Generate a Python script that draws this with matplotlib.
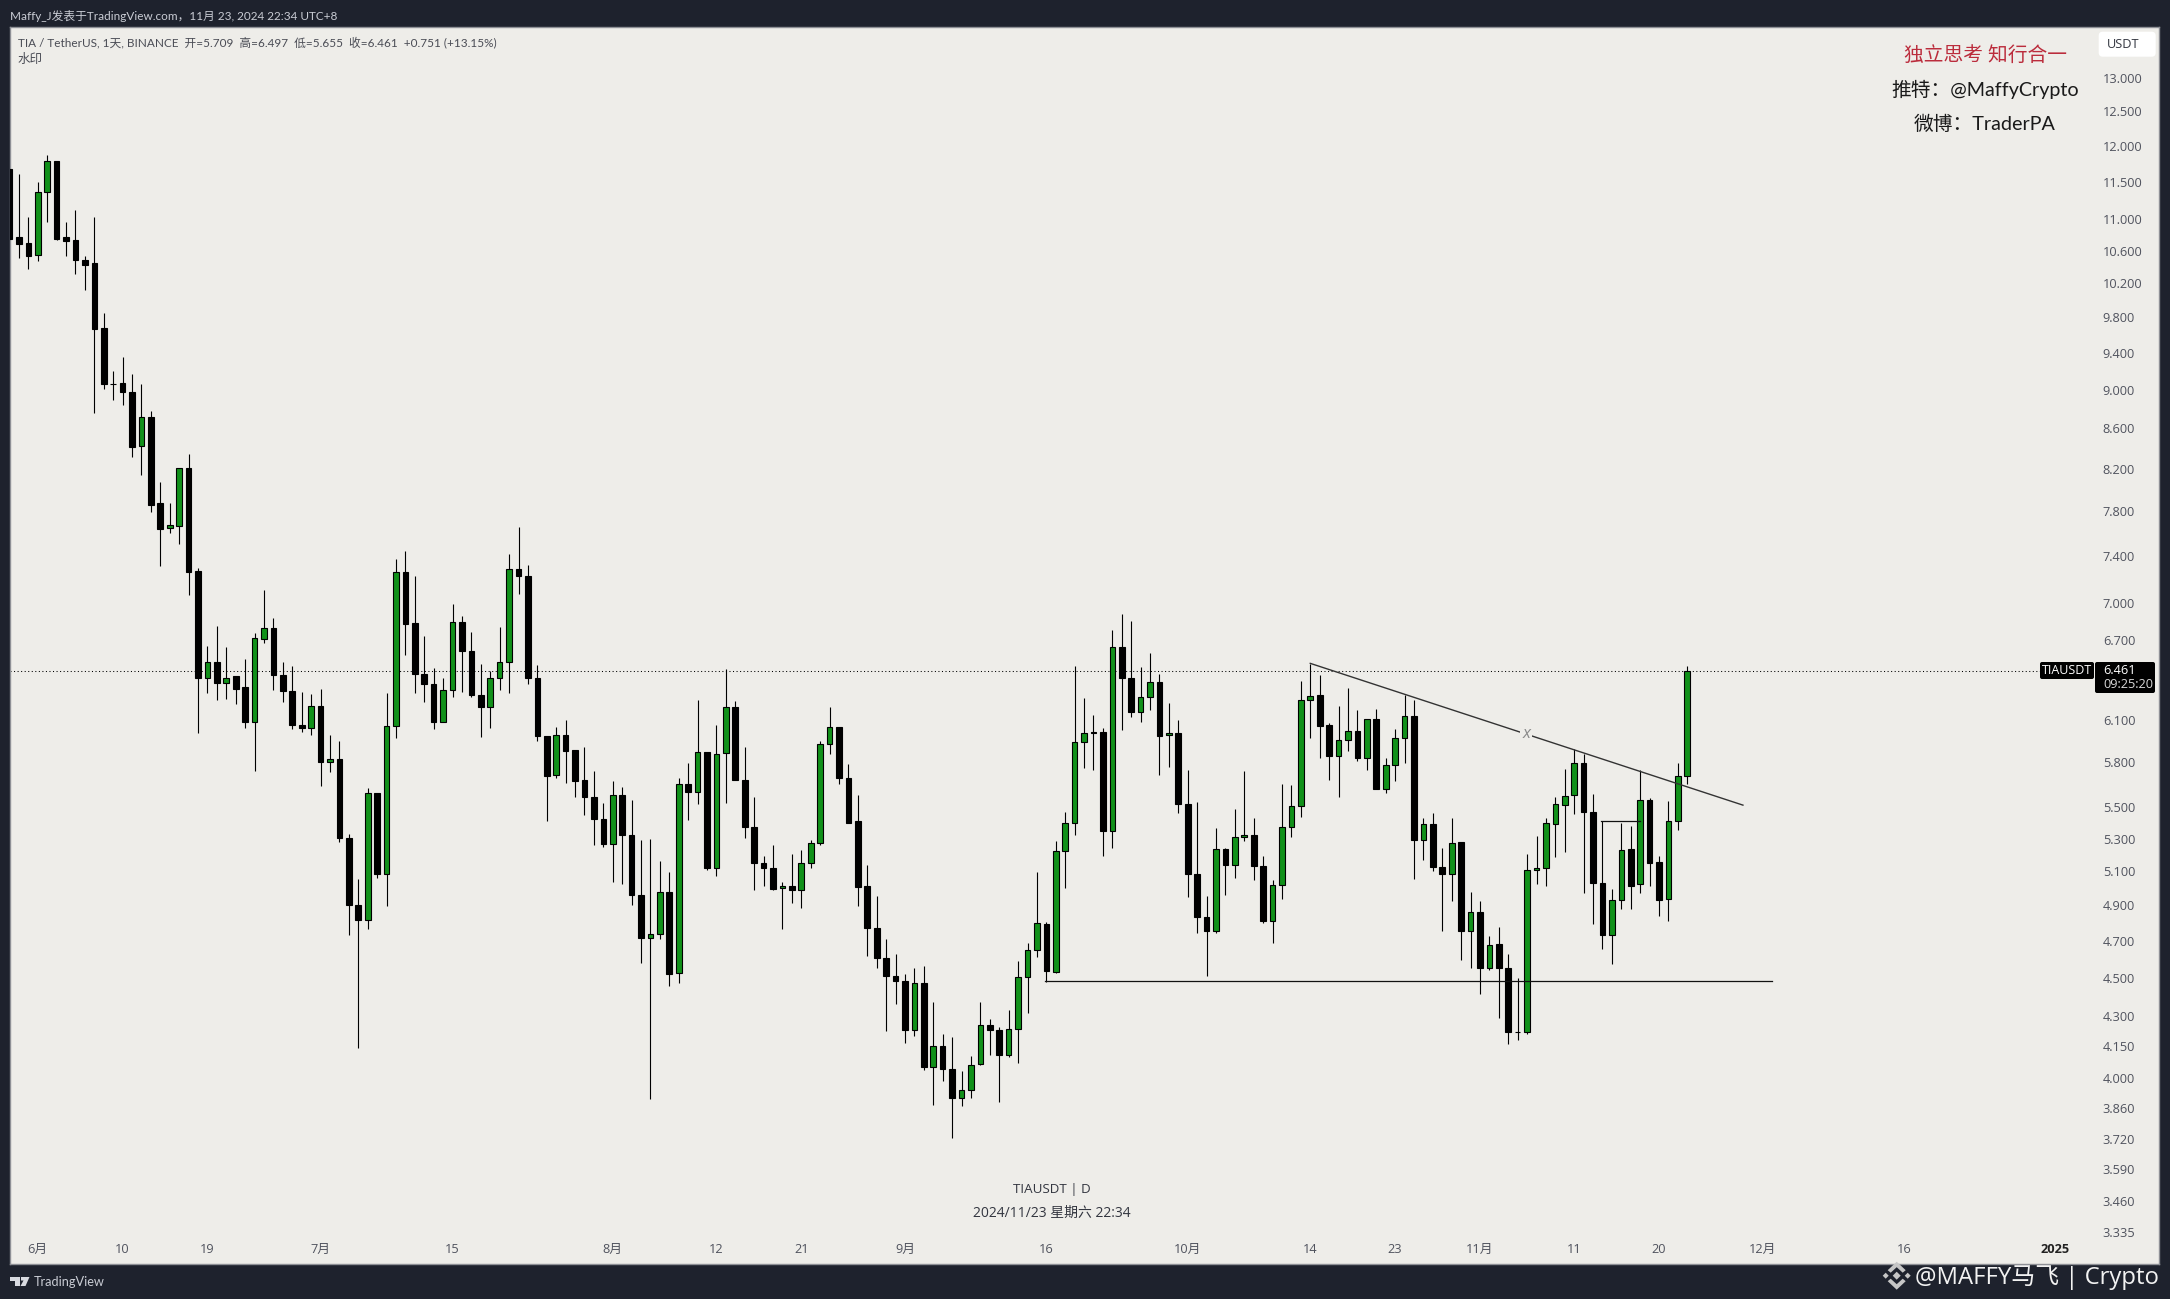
import matplotlib
matplotlib.use("Agg")
import matplotlib.pyplot as plt
from matplotlib.patches import Polygon, FancyBboxPatch
from matplotlib.ticker import NullLocator

opens = [11.67,10.78,10.70,10.55,11.36,11.79,10.78,10.74,10.49,10.45,
 9.68,9.065,9.07,8.98,8.423,8.715,7.87,7.65,7.665,8.21,
 7.267,6.405,6.53,6.367,6.418,6.34,6.083,6.71,6.797,6.43,
 6.308,6.06,6.04,6.198,5.805,5.825,5.308,4.905,4.818,5.596,
 5.086,6.055,7.255,6.832,6.437,6.364,6.082,6.319,6.845,6.617,
 6.279,6.19,6.407,6.53,7.285,7.225,6.407,5.98,5.713,5.992,
 5.883,5.68,5.569,5.426,5.267,5.582,5.326,4.962,4.715,4.738,
 4.98,4.524,5.655,5.601,5.871,5.119,5.864,6.19,5.68,5.373,
 5.151,5.121,4.999,5.015,4.989,5.151,5.274,5.927,6.05,5.694,
 5.41,5.011,4.774,4.603,4.509,4.484,4.231,4.472,4.049,4.152,
 4.042,3.904,3.942,4.065,4.254,4.231,4.107,4.235,4.503,4.649,
 4.795,4.528,5.223,5.398,5.941,6.014,6.014,5.35,6.648,6.408,
 6.153,6.265,6.378,5.99,6.006,5.524,5.086,4.835,4.755,5.239,
 5.138,5.311,5.326,5.134,4.81,5.018,5.375,5.509,6.242,6.282,
 6.059,5.847,5.957,6.015,5.833,6.106,5.623,5.784,5.971,6.128,
 5.294,5.396,5.128,5.085,5.278,4.752,4.863,4.551,4.683,4.553,
 4.222,4.222,5.108,5.12,5.395,5.519,5.581,5.798,5.471,5.03,
 4.731,4.932,5.238,5.023,5.547,5.155,4.937,5.413,5.709]
closes = [10.75,10.69,10.53,11.36,11.79,10.75,10.72,10.48,10.43,9.67,
 9.06,9.065,8.976,8.414,8.71,7.858,7.64,7.67,8.21,7.263,
 6.405,6.53,6.367,6.405,6.322,6.083,6.718,6.797,6.43,6.308,
 6.06,6.04,6.198,5.805,5.825,5.305,4.905,4.818,5.596,5.086,
 6.055,7.255,6.83,6.437,6.361,6.082,6.319,6.845,6.614,6.276,
 6.19,6.407,6.53,7.285,7.225,6.407,5.983,5.707,5.992,5.877,
 5.674,5.566,5.423,5.267,5.582,5.325,4.96,4.715,4.738,4.98,
 4.52,5.655,5.601,5.871,5.119,5.858,6.19,5.68,5.373,5.151,
 5.119,4.994,5.015,4.989,5.151,5.277,5.927,6.048,5.694,5.403,
 5.007,4.77,4.605,4.509,4.482,4.231,4.472,4.049,4.152,4.04,
 3.904,3.942,4.061,4.254,4.231,4.107,4.237,4.505,4.649,4.799,
 4.534,5.226,5.401,5.943,6.006,6.006,5.35,6.648,6.405,6.153,
 6.265,6.378,5.982,6.006,5.521,5.084,4.833,4.753,5.239,5.138,
 5.313,5.326,5.132,4.81,5.018,5.377,5.511,6.245,6.275,6.056,
 5.847,5.957,6.015,5.833,6.106,5.621,5.784,5.971,6.128,5.292,
 5.396,5.126,5.083,5.276,4.752,4.863,4.551,4.677,4.551,4.221,
 4.222,5.11,5.122,5.397,5.52,5.575,5.798,5.469,5.029,4.731,
 4.932,5.232,5.016,5.547,5.153,4.93,5.413,5.709,6.461]
highs = [11.67,11.60,11.03,11.50,11.87,11.79,10.97,11.12,10.54,11.03,
 9.85,9.20,9.349,9.165,9.06,8.775,8.07,7.87,8.21,8.34,
 7.29,6.65,6.808,6.642,6.418,6.549,6.753,7.104,6.873,6.53,
 6.494,6.304,6.29,6.325,5.988,5.951,5.332,5.057,5.63,5.596,
 6.297,7.37,7.437,7.229,6.729,6.486,6.41,6.987,6.889,6.761,
 6.514,6.462,6.806,7.413,7.659,7.317,6.502,5.98,6.047,6.097,
 5.883,5.908,5.74,5.532,5.677,5.635,5.55,5.295,5.302,5.161,
 5.099,5.694,5.799,6.245,5.871,6.059,6.474,6.232,5.908,5.569,
 5.196,5.264,5.035,5.204,5.229,5.292,5.946,6.194,6.05,5.788,
 5.579,5.141,4.956,4.712,4.625,4.522,4.55,4.56,4.375,4.213,
 4.198,4.029,4.104,4.375,4.288,4.248,4.333,4.591,4.689,5.095,
 4.808,5.288,5.473,6.496,6.26,6.134,6.039,6.777,6.911,6.849,
 6.493,6.602,6.44,6.224,6.095,5.745,5.533,4.956,5.366,5.245,
 5.487,5.739,5.43,5.197,5.05,5.652,5.645,6.381,6.516,6.433,
 6.074,6.195,6.328,6.173,6.106,6.178,5.828,6.03,6.277,6.245,
 5.43,5.464,5.245,5.43,5.278,4.976,4.928,4.724,4.777,4.627,
 4.499,5.208,5.315,5.435,5.569,5.757,5.892,5.857,5.587,5.413,
 4.993,5.403,5.384,5.748,5.563,5.196,5.539,5.795,6.497]
lows = [10.75,10.51,10.37,10.47,10.97,10.73,10.53,10.32,10.12,8.76,
 9.01,8.893,8.84,8.31,8.14,7.795,7.31,7.60,7.505,7.065,
 6.006,6.294,6.245,6.252,6.213,6.04,5.738,6.68,6.315,6.23,
 6.034,6.014,5.99,5.64,5.736,5.28,4.733,4.143,4.765,5.06,
 4.894,5.968,6.58,6.294,6.226,6.033,6.082,6.264,6.303,6.267,
 5.974,6.039,6.319,6.294,7.071,6.361,5.948,5.413,5.694,5.66,
 5.566,5.45,5.262,5.249,5.037,5.025,4.902,4.579,3.899,4.708,
 4.454,4.471,5.418,5.521,5.109,5.073,5.532,5.68,5.307,4.989,
 5.013,4.989,4.766,4.912,4.888,5.119,5.264,5.858,5.651,5.403,
 4.899,4.615,4.554,4.224,4.365,4.168,4.203,4.035,3.872,3.986,
 3.725,3.867,3.904,4.059,4.106,3.886,4.098,4.068,4.314,4.611,
 4.478,4.524,5.0,5.324,5.76,5.747,5.193,5.244,6.024,6.119,
 6.082,6.169,5.717,5.769,5.464,4.948,4.746,4.509,4.746,4.96,
 5.06,5.286,5.048,4.799,4.687,4.936,5.311,5.438,5.969,5.833,
 5.68,5.568,5.878,5.812,5.745,5.621,5.594,5.674,5.796,5.053,
 5.172,5.101,4.752,4.924,4.596,4.554,4.414,4.54,4.291,4.161,
 4.181,4.21,5.023,5.016,5.189,5.22,5.455,4.97,4.796,4.654,
 4.572,4.878,4.878,4.97,5.016,4.838,4.81,5.355,5.655]

y_ticks = [13.0,12.5,12.0,11.5,11.0,10.6,10.2,9.8,9.4,9.0,8.6,8.2,7.8,7.4,7.0,6.7,
           6.1,5.8,5.5,5.3,5.1,4.9,4.7,4.5,4.3,4.15,4.0,3.86,3.72,3.59,3.46,3.335]
x_tick_pos = [3,12,21,33,47,64,75,84,95,110,125,138,147,156,166,175,186,201,217]
x_tick_labels = ['6月','10','19','7月','15','8月','12','21','9月','16','10月','14','23','11月','11','20','12月','16','2025']

last_price = 6.461
support_level = 4.482
support_span = (109.9, 187.0)
box_level = 5.413
box_span = (168.8, 173.0)
trend_idx = (138.0, 183.9)
trend_price = (6.518, 5.515)
marker_pos = (160.9, 5.995)

W, H = 2170, 1299
BG = '#1e222d'
PANEL = '#eeede9'
GREEN = '#11911a'
FONT = ['Lato', 'Noto Sans CJK SC', 'DejaVu Sans']
OPEN = ['Open Sans', 'Noto Sans CJK SC', 'DejaVu Sans']
plt.rcParams['font.family'] = FONT

fig = plt.figure(figsize=(W/100, H/100), dpi=100, facecolor=BG)
L, R, T, B = 10.0, 2159.0, 27.0, 1264.0
ax = fig.add_axes([L/W, 1-B/H, (R-L)/W, (B-T)/H], facecolor=PANEL)
for s in ax.spines.values():
    s.set_color('#8e9096'); s.set_linewidth(1.0)

ax.set_yscale('log')
ax.set_xlim(0.053, 228.04)
ax.set_ylim(3.211, 13.80)

x = list(range(len(opens)))
ax.vlines(x, lows, highs, color='black', lw=0.8, zorder=3)
tops = [max(o, c) for o, c in zip(opens, closes)]
bots = [min(o, c) for o, c in zip(opens, closes)]
cols = [GREEN if c > o else 'black' for o, c in zip(opens, closes)]
ax.bar(x, [t-b for t, b in zip(tops, bots)], bottom=bots, width=0.6, color=cols,
       edgecolor='black', linewidth=0.8, zorder=4)

ax.plot([0.053, 215.4], [last_price]*2, color='black', lw=0.75, ls=(0, (1, 2.4)), zorder=2)
ax.plot(support_span, [support_level]*2, color='#111111', lw=0.9, zorder=5)
ax.plot(box_span, [box_level]*2, color='#111111', lw=0.9, zorder=5)
ax.plot(trend_idx, trend_price, color='#333333', lw=1.0, zorder=5)
ax.text(marker_pos[0], marker_pos[1], 'x', fontsize=12, style='italic', color='#8a8a8a', ha='center', va='center',
        zorder=6, family=OPEN, bbox=dict(facecolor=PANEL, edgecolor='none', pad=1.6))

ax.yaxis.tick_right()
ax.set_yticks(y_ticks)
ax.set_yticklabels([f'{v:.3f}' for v in y_ticks])
ax.yaxis.set_minor_locator(NullLocator())
ax.tick_params(axis='y', which='both', length=0, pad=-40.5, labelsize=9.2, labelcolor='#50535e')
ax.set_xticks(x_tick_pos)
ax.set_xticklabels(x_tick_labels)
ax.tick_params(axis='x', length=0, pad=-15.2, labelsize=9.2, labelcolor='#50535e')
for lbl in ax.get_xticklabels() + ax.get_yticklabels():
    lbl.set_fontfamily(OPEN)
for lbl in ax.get_xticklabels():
    if lbl.get_text() == '2025':
        lbl.set_color('#222222'); lbl.set_fontweight('bold')


def fx(px):
    return px/W


def fy(py):
    return 1-py/H


def txt(px, py, s, size, color, ha='left', va='center', family=None, **kw):
    fig.text(fx(px), fy(py), s, fontsize=size, color=color, ha=ha, va=va,
             family=family or FONT, zorder=20, **kw)


def box(x0, y0, x1, y1, color, r=2):
    fig.add_artist(FancyBboxPatch((x0, H-y1), x1-x0, y1-y0, boxstyle=f'round,pad=0,rounding_size={r}',
                                  transform=None, facecolor=color, edgecolor='none', zorder=15))


def poly(pts, color):
    fig.add_artist(Polygon([(fx(a), fy(b)) for a, b in pts], closed=True, transform=fig.transFigure,
                           facecolor=color, edgecolor='none', zorder=15))


txt(10, 15.5, 'Maffy_J发表于TradingView.com，11月 23, 2024 22:34 UTC+8', 8.45, '#c9ccd4')
txt(18, 42, 'TIA / TetherUS, 1天, BINANCE  开=5.709  高=6.497  低=5.655  收=6.461  +0.751 (+13.15%)', 8.45, '#4a4c55')
txt(18, 59, '水印', 9.0, '#4a4c55')

txt(1985, 54.5, '独立思考 知行合一', 14.2, '#bb2c3c', ha='center')
txt(1985, 89.5, '推特：@MaffyCrypto', 14.2, '#1a1a1a', ha='center')
txt(1985, 123.5, '微博：TraderPA', 14.2, '#1a1a1a', ha='center')

box(2098.7, 31.7, 2155.7, 56.7, '#ffffff', r=4)
txt(2107, 45, 'USDT', 9.2, '#333640', family=OPEN)

box(2040, 662, 2094, 679, '#000000')
txt(2067, 671, 'TIAUSDT', 9.0, '#ffffff', ha='center', family=OPEN)
box(2095, 662, 2155, 693, '#000000')
txt(2103, 671, '6.461', 9.2, '#ffffff', family=OPEN)
txt(2103, 684.5, '09:25:20', 9.2, '#d8d8d8', family=OPEN)

txt(1052, 1189, 'TIAUSDT | D', 9.6, '#333640', ha='center', family=OPEN)
txt(1052, 1213, '2024/11/23 星期六 22:34', 10, '#333640', ha='center', family=OPEN)

# footer
poly([(10, 1277), (19.5, 1277), (19.5, 1286), (15, 1286), (15, 1281), (10, 1281)], '#d8dae0')
poly([(21, 1277), (29.5, 1277), (25.5, 1286), (20.5, 1286), (23.5, 1280.5), (21, 1280.5)], '#d8dae0')
txt(33.5, 1281.5, 'TradingView', 9.2, '#c9ccd4')

c = '#c6c6c6'
cx, cy = 1896.7, 1275.7
poly([(cx-4, cy), (cx, cy-4), (cx+4, cy), (cx, cy+4)], c)
poly([(cx-9, cy-5.5), (cx, cy-14), (cx+9, cy-5.5), (cx+6, cy-3), (cx, cy-8.5), (cx-6, cy-3)], c)
poly([(cx-9, cy+5.5), (cx, cy+14), (cx+9, cy+5.5), (cx+6, cy+3), (cx, cy+8.5), (cx-6, cy+3)], c)
poly([(cx-14, cy), (cx-11, cy-3), (cx-8, cy), (cx-11, cy+3)], c)
poly([(cx+14, cy), (cx+11, cy-3), (cx+8, cy), (cx+11, cy+3)], c)
txt(1915, 1277.5, '@MAFFY马飞 | Crypto', 17.2, '#f2f2f2', family=OPEN)

fig.savefig('out.png', dpi=100, facecolor=BG)
